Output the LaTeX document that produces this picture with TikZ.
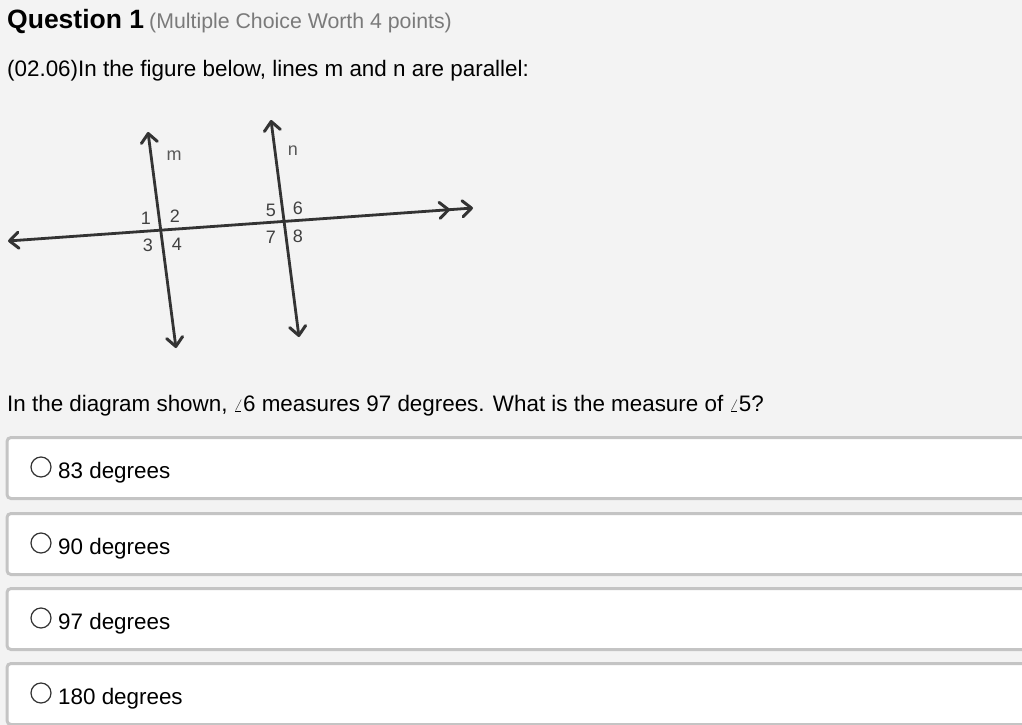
\documentclass[tikz,border=0pt]{standalone}
\usepackage{fontspec}
\setmainfont{Liberation Sans}
\usepackage{tikz}
\usetikzlibrary{arrows.meta, positioning}
\definecolor{pagebg}{HTML}{F3F3F3}
\definecolor{boxline}{HTML}{C4C4C4}
\definecolor{inkline}{HTML}{333333}
\definecolor{subgray}{HTML}{7A7A7A}
\newcommand{\angsym}{{\fontsize{18}{18}\selectfont$\angle$}}

\begin{document}
\begin{tikzpicture}[x=1pt, y=-1pt,
    txt/.style={anchor=base west, inner sep=0pt, font=\fontsize{22.4}{24}\selectfont},
    optbox/.style={draw=boxline, line width=3pt, fill=white, rounded corners=4pt},
    radio/.style={circle, draw=inkline, line width=1.2pt, minimum size=20pt, inner sep=0pt},
    gline/.style={inkline, line width=2.8pt},
    num/.style={inner sep=0pt, text=black!75, font=\fontsize{18}{18}\selectfont},
    barb/.tip={Straight Barb[length=9pt, width=16pt, line width=3pt, round]}]
    \useasboundingbox (0,0) rectangle (1022,725);
    \clip (0,0) rectangle (1022,725);
    \fill[pagebg] (0,0) rectangle (1022,725);

    % heading
    \node[txt, font=\bfseries\fontsize{26.5}{28}\selectfont] (head) at (7,29) {Question 1};
    \node[txt, text=subgray, font=\fontsize{21.3}{24}\selectfont] (worth) at (149,29) {(Multiple Choice Worth 4 points)};
    \node[txt] (intro) at (7,76) {(02.06)In the figure below, lines m and n are parallel:};

    % transversal and parallel lines
    \coordinate (tl) at (8,241);
    \coordinate (tr) at (473,208);
    \coordinate (mt) at (148,132);
    \coordinate (mb) at (176,348);
    \coordinate (nt) at (271,120);
    \coordinate (nb) at (299,337);
    \draw[gline, {barb}-{barb[sep=11pt] barb}] (tl) -- (tr);
    \draw[gline, {barb}-{barb}] (mt) -- (mb);
    \draw[gline, {barb}-{barb}] (nt) -- (nb);
    \node[num, text=black!65] (mlab) at (174,156) {m};
    \node[num, text=black!65] (nlab) at (293,151) {n};

    % angle numbers
    \node[num] (a1) at (146,218) {1};
    \node[num] (a2) at (175,216) {2};
    \node[num] (a3) at (148,245) {3};
    \node[num] (a4) at (177,244) {4};
    \node[num] (a5) at (271,210) {5};
    \node[num] (a6) at (298,208) {6};
    \node[num] (a7) at (271,237) {7};
    \node[num] (a8) at (298,236) {8};

    \node[txt] (ask) at (7,411) {In the diagram shown, \angsym6 measures 97 degrees. What is the measure of \angsym5?};

    % answer choices
    \foreach \y/\ans [count=\i] in {436/83, 512/90, 587/97, 662/180} {
        \draw[optbox] (7,\y+1.5) rectangle (1040,\y+62.5);
        \node[radio] (r\i) at (41,\y+31) {};
        \node[txt] (c\i) at (58,\y+42) {\ans\ degrees};
    }
\end{tikzpicture}
\end{document}
